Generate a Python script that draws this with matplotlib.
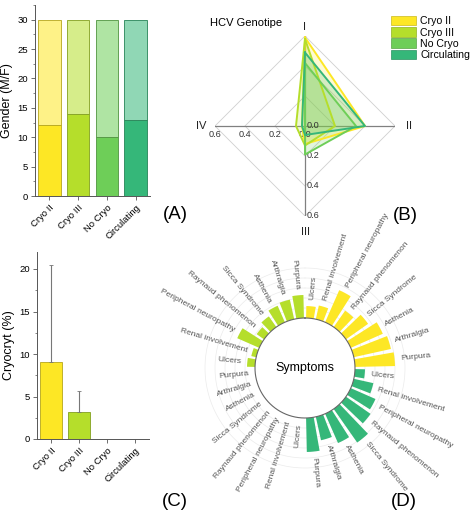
import numpy as np
import matplotlib.pyplot as plt
from matplotlib.colors import to_rgb
from matplotlib.patches import Patch
from matplotlib.ticker import MultipleLocator

plt.rcParams['font.family'] = ['Liberation Sans', 'DejaVu Sans']

groups = ['Cryo II', 'Cryo III', 'No Cryo', 'Circulating']
colors = ['#FDE725', '#B5DE2B', '#6ECE58', '#35B779']

# (A) gender
males = [12, 14, 10, 13]
females = [18, 16, 20, 17]

# (B) HCV genotype, axes I, II, III, IV
genotypes = ['I', 'II', 'III', 'IV']
geno = {
    'Cryo II': [0.59, 0.40, 0.12, 0.02],
    'Cryo III': [0.58, 0.20, 0.13, 0.06],
    'No Cryo': [0.42, 0.34, 0.19, 0.0],
    'Circulating': [0.49, 0.40, 0.06, 0.02],
}

# (C) cryocrit
cryocrit = [9.1, 3.2, 0, 0]
cryocrit_err = [11.4, 2.4, 0, 0]

# (D) symptoms
symptoms = ['Ulcers', 'Renal involvement', 'Peripheral neuropathy', 'Raynaud phenomenon',
            'Sicca Syndrome', 'Asthenia', 'Arthralgia', 'Purpura']
sym_order = ['Cryo II', 'Circulating', 'No Cryo', 'Cryo III']
sym_vals = {
    'Cryo II': [12, 14, 35, 20, 27, 35, 38, 40],
    'Circulating': [10, 20, 27, 30, 41, 32, 24, 34],
    'No Cryo': [0, 0, 0, 0, 0, 0, 0, 0],
    'Cryo III': [8, 5, 24, 9, 13, 18, 20, 23],
}


def darker(c, f=0.72):
    return tuple(v * f for v in to_rgb(c))


def lighter(c, f=0.45):
    return tuple(v + (1 - v) * f for v in to_rgb(c))


fig = plt.figure(figsize=(4.74, 5.13), dpi=100)
W, H = 474, 513


def box(l, t, r, b):
    return [l / W, 1 - b / H, (r - l) / W, (b - t) / H]


x = np.arange(len(groups))

# ---- (A)
ax = fig.add_axes(box(35, 5, 150, 196))
ax.bar(x, males, 0.78, color=colors, edgecolor=[darker(c) for c in colors], lw=0.6)
ax.bar(x, females, 0.78, bottom=males, color=[lighter(c) for c in colors],
       edgecolor=[darker(c) for c in colors], lw=0.6)
ax.set_xlim(-0.5, 3.5)
ax.set_ylim(0, 32.5)
ax.set_yticks(range(0, 31, 5))
ax.yaxis.set_minor_locator(MultipleLocator(2.5))
ax.set_xticks(x)
ax.set_xticklabels(groups, rotation=45, ha='right', rotation_mode='anchor')
ax.set_ylabel('Gender (M/F)', fontsize=9, labelpad=3)
ax.spines[['top', 'right']].set_visible(False)
for a in ('left', 'bottom'):
    ax.spines[a].set_color('#555555')
    ax.spines[a].set_linewidth(0.7)
ax.tick_params(labelsize=6.8, length=3, width=0.6, color='#555555', pad=2)
ax.tick_params(which='minor', length=1.5, width=0.5, color='#555555')

# ---- (C)
ax = fig.add_axes(box(37, 252, 149, 439))
ax.bar(x, cryocrit, 0.78, color=colors, edgecolor=[darker(c) for c in colors], lw=0.6)
ax.errorbar(x[:2], cryocrit[:2], yerr=[[0, 0], cryocrit_err[:2]], fmt='none',
            ecolor='#777777', elinewidth=0.8, capsize=1.5, capthick=0.6)
ax.set_xlim(-0.5, 3.5)
ax.set_ylim(0, 22)
ax.set_yticks(range(0, 21, 5))
ax.yaxis.set_minor_locator(MultipleLocator(2.5))
ax.set_xticks(x)
ax.set_xticklabels(groups, rotation=45, ha='right', rotation_mode='anchor')
ax.set_ylabel('Cryocryt (%)', fontsize=9, labelpad=3)
ax.spines[['top', 'right']].set_visible(False)
for a in ('left', 'bottom'):
    ax.spines[a].set_color('#555555')
    ax.spines[a].set_linewidth(0.7)
ax.tick_params(labelsize=6.8, length=3, width=0.6, color='#555555', pad=2)
ax.tick_params(which='minor', length=1.5, width=0.5, color='#555555')

# ---- (B) radar
ax = fig.add_axes(box(215, 36, 395, 216), projection='polar')
ax.set_theta_zero_location('N')
ax.set_theta_direction(-1)
ax.set_ylim(0, 0.6)
ax.axis('off')
th = np.linspace(0, 2 * np.pi, 5)
for r in [0.2, 0.4, 0.6]:
    ax.plot(th, [r] * 5, color='#d0d0d0', lw=0.6, zorder=1)
for t in [0, np.pi / 2]:
    ax.plot([t, t + np.pi], [0.6, 0.6], color='#808080', lw=0.9, zorder=2)
for g, c in zip(groups, colors):
    v = geno[g] + geno[g][:1]
    ax.fill(th, v, color=c, alpha=0.2, lw=0, zorder=3)
    ax.plot(th, v, color=c, lw=1.4, zorder=4)
for r in [0.0, 0.2, 0.4, 0.6]:
    ax.annotate(f'{r:.1f}', (3 * np.pi / 2, r), xytext=(0, -3), textcoords='offset points',
                ha='center', va='top', fontsize=6.6, color='#333333')
    ax.annotate(f'{r:.1f}', (np.pi, r), xytext=(1.5, 0), textcoords='offset points',
                ha='left', va='center', fontsize=6.6, color='#333333')
lab_off = [(0, 3, 'center', 'bottom'), (8, 0, 'left', 'center'),
           (0, -8, 'center', 'top'), (-6, 0, 'right', 'center')]
for i, (name, (dx, dy, ha, va)) in enumerate(zip(genotypes, lab_off)):
    ax.annotate(name, (i * np.pi / 2, 0.6), xytext=(dx, dy), textcoords='offset points',
                ha=ha, va=va, fontsize=8, color='#222222')
fig.text(210 / W, 1 - 23 / H, 'HCV Genotipe', fontsize=8, ha='left', va='center')
handles = [Patch(facecolor=c, edgecolor=darker(c, 0.8), lw=0.5) for c in colors]
fig.legend(handles, groups, loc='upper left', bbox_to_anchor=(391 / W, 1 - 16 / H),
           frameon=False, fontsize=7.6, handlelength=2.4, handleheight=1.0,
           labelspacing=0.08, handletextpad=0.35, borderpad=0, borderaxespad=0)

# ---- (D) circular bars
R0 = 50
ax = fig.add_axes(box(175, 238, 435, 498), projection='polar')
ax.set_theta_zero_location('N')
ax.set_theta_direction(-1)
ax.set_ylim(0, 130)
ax.axis('off')
n = len(symptoms) * len(sym_order)
step = 2 * np.pi / n
circ = np.linspace(0, 2 * np.pi, 300)
for r in [R0 + 10, R0 + 20, R0 + 30, R0 + 40, R0 + 50]:
    ax.plot(circ, [r] * 300, color='#ebebeb', lw=0.5, zorder=1)
ax.plot(circ, [R0] * 300, color='#666666', lw=0.8, zorder=3)
k = 0
for g in sym_order:
    c = colors[groups.index(g)]
    for s, v in zip(symptoms, sym_vals[g]):
        t = (k + 0.5) * step
        if v > 0:
            ax.bar(t, v, width=step * 0.78, bottom=R0, color=c, lw=0, zorder=2)
        a = (90 - np.degrees(t) + 180) % 360 - 180
        if -90 <= a <= 90:
            rot, ha = a, 'left'
        else:
            rot, ha = a + 180, 'right'
        ax.text(t, R0 + v + 6, s, rotation=rot, rotation_mode='anchor', ha=ha, va='center',
                fontsize=6, color='#555555')
        k += 1
ax.text(0, 0, 'Symptoms', ha='center', va='center', fontsize=9)

for s, (px, py) in zip(['(A)', '(B)', '(C)', '(D)'],
                       [(175, 215), (405, 216), (175, 502), (404, 502)]):
    fig.text(px / W, 1 - py / H, s, fontsize=13.5, ha='center', va='center')

fig.savefig('out.png', dpi=100)
